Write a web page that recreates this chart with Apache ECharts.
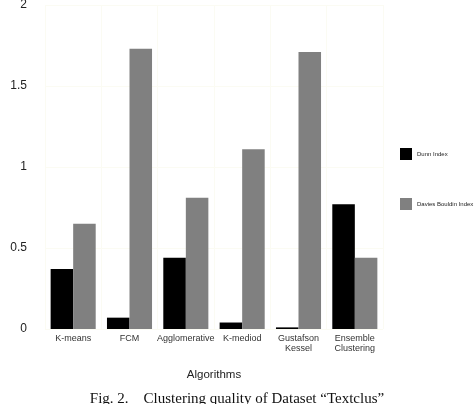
<!DOCTYPE html><html><head><meta charset="utf-8"><script src="https://cdn.jsdelivr.net/npm/echarts@6/dist/echarts.min.js"></script>
<style>html,body{margin:0;background:#fff}#c{width:474px;height:404px}</style></head><body><div id="c"></div><script>
const categories=['K-means','FCM','Agglomerative','K-mediod','Gustafson\nKessel','Ensemble\nClustering'];
const dunn=[0.37,0.07,0.44,0.04,0.01,0.77];
const daviesBouldin=[0.65,1.73,0.81,1.11,1.71,0.44];
const yTicks=[0,0.5,1,1.5,2];
const c=echarts.init(document.getElementById('c'));
c.setOption({animation:false,
grid:{left:45,right:91,top:5,bottom:75,outerBoundsMode:'none',containLabel:false},
legend:{orient:'vertical',left:395,top:143,itemGap:38,itemWidth:12,itemHeight:12,icon:'rect',textStyle:{fontSize:6,color:'#222',fontFamily:'Liberation Sans'}},
xAxis:{type:'category',data:categories,name:'Algorithms',nameLocation:'middle',nameGap:40,nameTextStyle:{fontSize:11.5,color:'#222',fontFamily:'Liberation Sans'},
axisLine:{show:false},axisTick:{show:false},axisLabel:{fontSize:9,color:'#333',lineHeight:10.5,interval:0,margin:4,fontFamily:'Liberation Sans'},splitLine:{show:true,lineStyle:{color:'#fbfbf3'}}},
yAxis:{type:'value',min:0,max:2,interval:0.5,name:'Values',nameLocation:'middle',nameGap:40,nameTextStyle:{fontSize:12,color:'#222',fontFamily:'Liberation Sans'},
axisLabel:{fontSize:12,color:'#222',margin:18,fontFamily:'Liberation Sans',formatter:v=>yTicks.includes(v)?String(v):''},axisLine:{show:false},axisTick:{show:false},splitLine:{lineStyle:{color:'#fbfbf3'}}},
series:[{name:'Dunn Index',type:'bar',data:dunn,itemStyle:{color:'#000'},barGap:'0%',barCategoryGap:'20%'},
{name:'Davies Bouldin Index',type:'bar',data:daviesBouldin,itemStyle:{color:'#808080'}}],
graphic:[{type:'text',left:'center',top:392,style:{text:'Fig. 2.    Clustering quality of Dataset “Textclus”',font:'15px "Liberation Serif"',fill:'#111'}}]
});
</script></body></html>
